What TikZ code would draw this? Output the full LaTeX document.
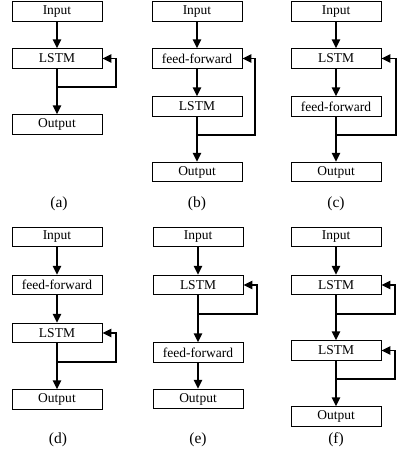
\documentclass[tikz,border=0pt]{standalone}
\usepackage{fontspec}
\setmainfont{Liberation Serif}
\usetikzlibrary{arrows.meta}
\begin{document}
\begin{tikzpicture}[x=1pt,y=-1pt,
  blk/.style={draw,line width=0.9pt,minimum width=90pt,minimum height=19.5pt,inner sep=0pt,font=\fontsize{13.5}{16}\selectfont},
  arr/.style={line width=1.5pt,-{Triangle[length=9pt,width=8.5pt]}},
  lbl/.style={font=\fontsize{15.5}{18}\selectfont}]
\useasboundingbox (0,0) rectangle (408,455);
% (a)
\node[blk] (aI) at (57,11.5) {Input};
\node[blk] (aL) at (57,58.5) {LSTM};
\node[blk] (aO) at (57,124.5) {Output};
\coordinate (aJ) at (57,87);
\draw[arr] (aI) -- (aL);
\draw[arr] (aL) -- (aO);
\draw[arr] (aJ) -- ++(59,0) |- (aL.east);
\node[lbl] (la) at (59,204) {(a)};
% (b)
\node[blk] (bI) at (197,11.5) {Input};
\node[blk] (bF) at (197,58.5) {feed-forward};
\node[blk] (bL) at (197,106.5) {LSTM};
\node[blk] (bO) at (197,172) {Output};
\coordinate (bJ) at (197,135);
\draw[arr] (bI) -- (bF);
\draw[arr] (bF) -- (bL);
\draw[arr] (bL) -- (bO);
\draw[arr] (bJ) -- ++(58,0) |- (bF.east);
\node[lbl] (lb) at (197,204) {(b)};
% (c)
\node[blk] (cI) at (336,11.5) {Input};
\node[blk] (cL) at (336,58.5) {LSTM};
\node[blk] (cF) at (336,106.5) {feed-forward};
\node[blk] (cO) at (336,172) {Output};
\coordinate (cJ) at (336,135);
\draw[arr] (cI) -- (cL);
\draw[arr] (cL) -- (cF);
\draw[arr] (cF) -- (cO);
\draw[arr] (cJ) -- ++(60,0) |- (cL.east);
\node[lbl] (lc) at (336,204) {(c)};
% (d)
\node[blk] (dI) at (57,237) {Input};
\node[blk] (dF) at (57,285) {feed-forward};
\node[blk] (dL) at (57,333) {LSTM};
\node[blk] (dO) at (57,399.5) {Output};
\coordinate (dJ) at (57,362);
\draw[arr] (dI) -- (dF);
\draw[arr] (dF) -- (dL);
\draw[arr] (dL) -- (dO);
\draw[arr] (dJ) -- ++(59,0) |- (dL.east);
\node[lbl] (ld) at (58,440) {(d)};
% (e)
\node[blk] (eI) at (198,237) {Input};
\node[blk] (eL) at (198,285) {LSTM};
\node[blk] (eF) at (198,352.5) {feed-forward};
\node[blk] (eO) at (198,399) {Output};
\coordinate (eJ) at (198,314);
\draw[arr] (eI) -- (eL);
\draw[arr] (eL) -- (eF);
\draw[arr] (eF) -- (eO);
\draw[arr] (eJ) -- ++(59,0) |- (eL.east);
\node[lbl] (le) at (198,440) {(e)};
% (f)
\node[blk] (fI) at (336,237) {Input};
\node[blk] (fL1) at (336,285) {LSTM};
\node[blk] (fL2) at (336,350.5) {LSTM};
\node[blk] (fO) at (336,416.5) {Output};
\coordinate (fJ1) at (336,314);
\coordinate (fJ2) at (336,379);
\draw[arr] (fI) -- (fL1);
\draw[arr] (fL1) -- (fL2);
\draw[arr] (fL2) -- (fO);
\draw[arr] (fJ1) -- ++(59,0) |- (fL1.east);
\draw[arr] (fJ2) -- ++(59,0) |- (fL2.east);
\node[lbl] (lf) at (336,440) {(f)};
\end{tikzpicture}
\end{document}
